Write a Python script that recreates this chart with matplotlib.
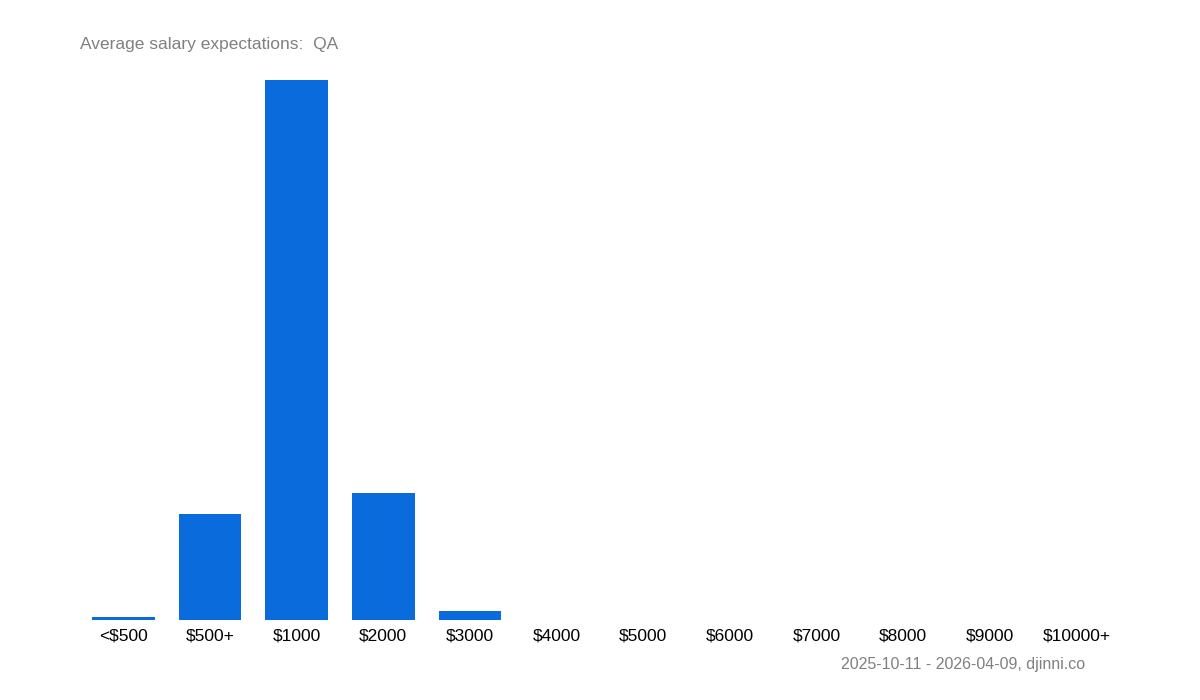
import matplotlib.pyplot as plt

categories = ["<$500", "$500+", "$1000", "$2000", "$3000", "$4000", "$5000",
              "$6000", "$7000", "$8000", "$9000", "$10000+"]
values = [3, 106, 540, 127, 9, 0, 0, 0, 0, 0, 0, 0]

plt.rcParams['font.family'] = ['Liberation Sans', 'DejaVu Sans']

fig = plt.figure(figsize=(12, 7), dpi=100)
ax = fig.add_axes([80/1200, 1-620/700, 1040/1200, 540/700])
ax.bar(range(len(categories)), values, width=0.72, color='#0a6cdc')
ax.set_xlim(-0.5, 11.5)
ax.set_ylim(0, 540)
ax.set_xticks(range(len(categories)))
ax.set_xticklabels(categories, fontsize=12.5)
ax.tick_params(axis='x', length=0, pad=6)
ax.set_yticks([])
for s in ax.spines.values():
    s.set_visible(False)

fig.text(80/1200, 1-44/700, "Average salary expectations:  QA", fontsize=12.5,
         color='#808080', va='center')
fig.text(1085/1200, 1-664/700, "2025-10-11 - 2026-04-09, djinni.co", fontsize=11.5,
         color='#808080', va='center', ha='right')

fig.savefig("out.png", dpi=100)
